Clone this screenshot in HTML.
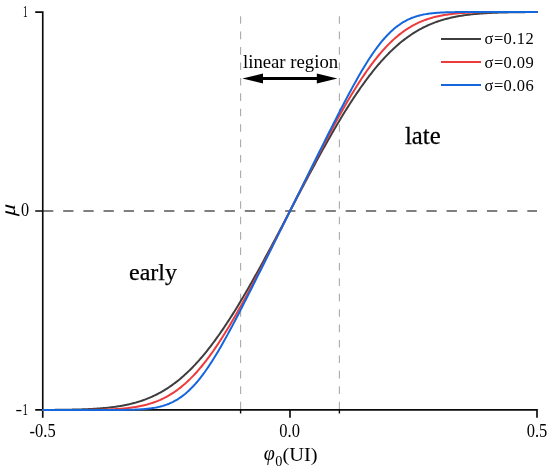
<!DOCTYPE html>
<html><head><meta charset="utf-8"><style>
html,body{margin:0;padding:0;background:#fff;}
svg{display:block;}
</style></head><body>
<svg width="550" height="471" viewBox="0 0 550 471">
<rect width="550" height="471" fill="#fff"/>
<g font-family="'Liberation Serif', 'Times New Roman', serif" fill="#000">
<line x1="43" y1="211.0" x2="537" y2="211.0" stroke="#7f7f7f" stroke-width="1.8" stroke-dasharray="10.3 9.88"/>
<line x1="240.60" y1="16.2" x2="240.60" y2="409" stroke="#aaaaaa" stroke-width="1.1" stroke-dasharray="7.6 7.82"/>
<line x1="339.40" y1="16.2" x2="339.40" y2="409" stroke="#aaaaaa" stroke-width="1.1" stroke-dasharray="7.6 7.82"/>
<path d="M35.2 12.1 H42.75 V417.8 M42.75 409.8 H537 V417.8 M35.2 211 H42.75 M35.2 409.9 H42.75 M290 409.8 V417.8" fill="none" stroke="#0a0a0a" stroke-width="1.65"/>
<path d="M240.60 409.8 V413.5 M339.40 409.8 V413.5" stroke="#0a0a0a" stroke-width="1.4"/>
<polyline points="43.00,409.94 44.24,409.93 45.47,409.93 46.71,409.92 47.94,409.92 49.18,409.91 50.41,409.90 51.65,409.89 52.88,409.89 54.12,409.88 55.35,409.87 56.59,409.86 57.82,409.84 59.05,409.83 60.29,409.82 61.52,409.80 62.76,409.79 64.00,409.77 65.23,409.76 66.47,409.74 67.70,409.72 68.94,409.70 70.17,409.67 71.41,409.65 72.64,409.62 73.88,409.60 75.11,409.57 76.34,409.54 77.58,409.50 78.81,409.47 80.05,409.43 81.28,409.39 82.52,409.35 83.75,409.31 84.99,409.26 86.23,409.21 87.46,409.16 88.70,409.10 89.93,409.04 91.17,408.98 92.40,408.91 93.64,408.84 94.87,408.77 96.10,408.69 97.34,408.61 98.57,408.52 99.81,408.43 101.04,408.33 102.28,408.23 103.51,408.12 104.75,408.01 105.99,407.89 107.22,407.77 108.46,407.63 109.69,407.50 110.93,407.35 112.16,407.20 113.40,407.04 114.63,406.88 115.86,406.70 117.10,406.52 118.33,406.33 119.57,406.13 120.80,405.92 122.04,405.70 123.27,405.48 124.51,405.24 125.75,404.99 126.98,404.73 128.22,404.47 129.45,404.19 130.69,403.89 131.92,403.59 133.16,403.27 134.39,402.94 135.62,402.60 136.86,402.25 138.09,401.88 139.33,401.50 140.56,401.10 141.80,400.69 143.03,400.26 144.27,399.82 145.50,399.36 146.74,398.89 147.98,398.40 149.21,397.89 150.45,397.37 151.68,396.83 152.92,396.27 154.15,395.69 155.39,395.10 156.62,394.49 157.86,393.85 159.09,393.20 160.33,392.53 161.56,391.84 162.80,391.13 164.03,390.39 165.26,389.64 166.50,388.87 167.74,388.07 168.97,387.26 170.20,386.42 171.44,385.56 172.68,384.68 173.91,383.77 175.15,382.85 176.38,381.90 177.62,380.92 178.85,379.93 180.09,378.91 181.32,377.87 182.56,376.80 183.79,375.71 185.03,374.60 186.26,373.47 187.50,372.31 188.73,371.12 189.96,369.92 191.20,368.69 192.44,367.43 193.67,366.15 194.91,364.85 196.14,363.53 197.38,362.18 198.61,360.80 199.84,359.41 201.08,357.99 202.31,356.54 203.55,355.08 204.79,353.59 206.02,352.07 207.25,350.54 208.49,348.98 209.73,347.40 210.96,345.80 212.19,344.17 213.43,342.52 214.67,340.85 215.90,339.16 217.13,337.45 218.37,335.72 219.60,333.97 220.84,332.19 222.07,330.40 223.31,328.59 224.55,326.75 225.78,324.90 227.01,323.03 228.25,321.14 229.49,319.23 230.72,317.31 231.96,315.36 233.19,313.40 234.43,311.43 235.66,309.43 236.90,307.42 238.13,305.40 239.37,303.36 240.60,301.30 241.84,299.23 243.07,297.14 244.31,295.04 245.54,292.93 246.78,290.80 248.01,288.67 249.25,286.51 250.48,284.35 251.72,282.18 252.95,279.99 254.19,277.79 255.42,275.58 256.65,273.37 257.89,271.14 259.12,268.90 260.36,266.66 261.60,264.40 262.83,262.14 264.06,259.87 265.30,257.59 266.54,255.30 267.77,253.01 269.00,250.71 270.24,248.41 271.48,246.10 272.71,243.78 273.94,241.46 275.18,239.13 276.42,236.80 277.65,234.47 278.88,232.13 280.12,229.79 281.36,227.45 282.59,225.10 283.82,222.76 285.06,220.41 286.30,218.06 287.53,215.71 288.76,213.35 290.00,211.00 291.24,208.65 292.47,206.29 293.71,203.94 294.94,201.59 296.17,199.24 297.41,196.90 298.64,194.55 299.88,192.21 301.12,189.87 302.35,187.53 303.58,185.20 304.82,182.87 306.06,180.54 307.29,178.22 308.52,175.90 309.76,173.59 311.00,171.29 312.23,168.99 313.46,166.70 314.70,164.41 315.94,162.13 317.17,159.86 318.40,157.60 319.64,155.34 320.88,153.10 322.11,150.86 323.35,148.63 324.58,146.42 325.81,144.21 327.05,142.01 328.29,139.82 329.52,137.65 330.75,135.49 331.99,133.33 333.23,131.20 334.46,129.07 335.69,126.96 336.93,124.86 338.17,122.77 339.40,120.70 340.63,118.64 341.87,116.60 343.11,114.58 344.34,112.57 345.58,110.57 346.81,108.60 348.05,106.64 349.28,104.69 350.52,102.77 351.75,100.86 352.99,98.97 354.22,97.10 355.46,95.25 356.69,93.41 357.93,91.60 359.16,89.81 360.39,88.03 361.63,86.28 362.87,84.55 364.10,82.84 365.33,81.15 366.57,79.48 367.81,77.83 369.04,76.20 370.27,74.60 371.51,73.02 372.75,71.46 373.98,69.93 375.21,68.41 376.45,66.92 377.69,65.46 378.92,64.01 380.15,62.59 381.39,61.20 382.62,59.82 383.86,58.47 385.10,57.15 386.33,55.85 387.56,54.57 388.80,53.31 390.04,52.08 391.27,50.88 392.50,49.69 393.74,48.53 394.98,47.40 396.21,46.29 397.44,45.20 398.68,44.13 399.92,43.09 401.15,42.07 402.38,41.08 403.62,40.10 404.86,39.15 406.09,38.23 407.33,37.32 408.56,36.44 409.80,35.58 411.03,34.74 412.27,33.93 413.50,33.13 414.74,32.36 415.97,31.61 417.21,30.87 418.44,30.16 419.68,29.47 420.91,28.80 422.15,28.15 423.38,27.51 424.62,26.90 425.85,26.31 427.08,25.73 428.32,25.17 429.55,24.63 430.79,24.11 432.02,23.60 433.26,23.11 434.50,22.64 435.73,22.18 436.97,21.74 438.20,21.31 439.44,20.90 440.67,20.50 441.90,20.12 443.14,19.75 444.38,19.40 445.61,19.06 446.85,18.73 448.08,18.41 449.31,18.11 450.55,17.81 451.78,17.53 453.02,17.27 454.25,17.01 455.49,16.76 456.73,16.52 457.96,16.30 459.20,16.08 460.43,15.87 461.67,15.67 462.90,15.48 464.13,15.30 465.37,15.12 466.61,14.96 467.84,14.80 469.08,14.65 470.31,14.50 471.55,14.37 472.78,14.23 474.01,14.11 475.25,13.99 476.49,13.88 477.72,13.77 478.96,13.67 480.19,13.57 481.43,13.48 482.66,13.39 483.90,13.31 485.13,13.23 486.37,13.16 487.60,13.09 488.83,13.02 490.07,12.96 491.30,12.90 492.54,12.84 493.77,12.79 495.01,12.74 496.25,12.69 497.48,12.65 498.72,12.61 499.95,12.57 501.19,12.53 502.42,12.50 503.65,12.46 504.89,12.43 506.12,12.40 507.36,12.38 508.60,12.35 509.83,12.33 511.06,12.30 512.30,12.28 513.53,12.26 514.77,12.24 516.00,12.23 517.24,12.21 518.48,12.20 519.71,12.18 520.95,12.17 522.18,12.16 523.41,12.14 524.65,12.13 525.88,12.12 527.12,12.11 528.36,12.11 529.59,12.10 530.83,12.09 532.06,12.08 533.30,12.08 534.53,12.07 535.76,12.07 537.00,12.06" fill="none" stroke="#3e3e3e" stroke-width="2" stroke-linejoin="round" stroke-linecap="round"/>
<polyline points="43.00,410.00 44.24,410.00 45.47,410.00 46.71,410.00 47.94,410.00 49.18,410.00 50.41,410.00 51.65,410.00 52.88,409.99 54.12,409.99 55.35,409.99 56.59,409.99 57.82,409.99 59.05,409.99 60.29,409.99 61.52,409.99 62.76,409.99 64.00,409.98 65.23,409.98 66.47,409.98 67.70,409.98 68.94,409.97 70.17,409.97 71.41,409.97 72.64,409.96 73.88,409.96 75.11,409.96 76.34,409.95 77.58,409.95 78.81,409.94 80.05,409.93 81.28,409.93 82.52,409.92 83.75,409.91 84.99,409.90 86.23,409.89 87.46,409.88 88.70,409.87 89.93,409.85 91.17,409.84 92.40,409.82 93.64,409.80 94.87,409.79 96.10,409.76 97.34,409.74 98.57,409.72 99.81,409.69 101.04,409.66 102.28,409.63 103.51,409.60 104.75,409.56 105.99,409.52 107.22,409.48 108.46,409.43 109.69,409.38 110.93,409.33 112.16,409.27 113.40,409.21 114.63,409.14 115.86,409.07 117.10,408.99 118.33,408.91 119.57,408.82 120.80,408.73 122.04,408.63 123.27,408.52 124.51,408.40 125.75,408.28 126.98,408.15 128.22,408.01 129.45,407.86 130.69,407.71 131.92,407.54 133.16,407.36 134.39,407.18 135.62,406.98 136.86,406.77 138.09,406.54 139.33,406.31 140.56,406.06 141.80,405.80 143.03,405.52 144.27,405.23 145.50,404.92 146.74,404.60 147.98,404.26 149.21,403.91 150.45,403.53 151.68,403.14 152.92,402.73 154.15,402.30 155.39,401.85 156.62,401.38 157.86,400.89 159.09,400.37 160.33,399.84 161.56,399.28 162.80,398.70 164.03,398.09 165.26,397.47 166.50,396.81 167.74,396.13 168.97,395.43 170.20,394.70 171.44,393.94 172.68,393.15 173.91,392.34 175.15,391.50 176.38,390.63 177.62,389.73 178.85,388.81 180.09,387.85 181.32,386.87 182.56,385.85 183.79,384.81 185.03,383.74 186.26,382.63 187.50,381.50 188.73,380.33 189.96,379.14 191.20,377.91 192.44,376.65 193.67,375.36 194.91,374.04 196.14,372.70 197.38,371.32 198.61,369.91 199.84,368.47 201.08,367.00 202.31,365.50 203.55,363.97 204.79,362.41 206.02,360.82 207.25,359.21 208.49,357.56 209.73,355.89 210.96,354.19 212.19,352.46 213.43,350.71 214.67,348.93 215.90,347.12 217.13,345.29 218.37,343.44 219.60,341.56 220.84,339.65 222.07,337.72 223.31,335.77 224.55,333.80 225.78,331.81 227.01,329.79 228.25,327.75 229.49,325.70 230.72,323.62 231.96,321.53 233.19,319.41 234.43,317.28 235.66,315.14 236.90,312.97 238.13,310.79 239.37,308.59 240.60,306.38 241.84,304.16 243.07,301.92 244.31,299.67 245.54,297.40 246.78,295.12 248.01,292.84 249.25,290.54 250.48,288.22 251.72,285.90 252.95,283.57 254.19,281.23 255.42,278.88 256.65,276.52 257.89,274.16 259.12,271.79 260.36,269.41 261.60,267.02 262.83,264.63 264.06,262.23 265.30,259.82 266.54,257.41 267.77,255.00 269.00,252.58 270.24,250.15 271.48,247.72 272.71,245.29 273.94,242.85 275.18,240.42 276.42,237.97 277.65,235.53 278.88,233.08 280.12,230.64 281.36,228.19 282.59,225.73 283.82,223.28 285.06,220.83 286.30,218.37 287.53,215.91 288.76,213.46 290.00,211.00 291.24,208.54 292.47,206.09 293.71,203.63 294.94,201.17 296.17,198.72 297.41,196.27 298.64,193.81 299.88,191.36 301.12,188.92 302.35,186.47 303.58,184.03 304.82,181.58 306.06,179.15 307.29,176.71 308.52,174.28 309.76,171.85 311.00,169.42 312.23,167.00 313.46,164.59 314.70,162.18 315.94,159.77 317.17,157.37 318.40,154.98 319.64,152.59 320.88,150.21 322.11,147.84 323.35,145.48 324.58,143.12 325.81,140.77 327.05,138.43 328.29,136.10 329.52,133.78 330.75,131.46 331.99,129.16 333.23,126.88 334.46,124.60 335.69,122.33 336.93,120.08 338.17,117.84 339.40,115.62 340.63,113.41 341.87,111.21 343.11,109.03 344.34,106.86 345.58,104.72 346.81,102.59 348.05,100.47 349.28,98.38 350.52,96.30 351.75,94.25 352.99,92.21 354.22,90.19 355.46,88.20 356.69,86.23 357.93,84.28 359.16,82.35 360.39,80.44 361.63,78.56 362.87,76.71 364.10,74.88 365.33,73.07 366.57,71.29 367.81,69.54 369.04,67.81 370.27,66.11 371.51,64.44 372.75,62.79 373.98,61.18 375.21,59.59 376.45,58.03 377.69,56.50 378.92,55.00 380.15,53.53 381.39,52.09 382.62,50.68 383.86,49.30 385.10,47.96 386.33,46.64 387.56,45.35 388.80,44.09 390.04,42.86 391.27,41.67 392.50,40.50 393.74,39.37 394.98,38.26 396.21,37.19 397.44,36.15 398.68,35.13 399.92,34.15 401.15,33.19 402.38,32.27 403.62,31.37 404.86,30.50 406.09,29.66 407.33,28.85 408.56,28.06 409.80,27.30 411.03,26.57 412.27,25.87 413.50,25.19 414.74,24.53 415.97,23.91 417.21,23.30 418.44,22.72 419.68,22.16 420.91,21.63 422.15,21.11 423.38,20.62 424.62,20.15 425.85,19.70 427.08,19.27 428.32,18.86 429.55,18.47 430.79,18.09 432.02,17.74 433.26,17.40 434.50,17.08 435.73,16.77 436.97,16.48 438.20,16.20 439.44,15.94 440.67,15.69 441.90,15.46 443.14,15.23 444.38,15.02 445.61,14.82 446.85,14.64 448.08,14.46 449.31,14.29 450.55,14.14 451.78,13.99 453.02,13.85 454.25,13.72 455.49,13.60 456.73,13.48 457.96,13.37 459.20,13.27 460.43,13.18 461.67,13.09 462.90,13.01 464.13,12.93 465.37,12.86 466.61,12.79 467.84,12.73 469.08,12.67 470.31,12.62 471.55,12.57 472.78,12.52 474.01,12.48 475.25,12.44 476.49,12.40 477.72,12.37 478.96,12.34 480.19,12.31 481.43,12.28 482.66,12.26 483.90,12.24 485.13,12.21 486.37,12.20 487.60,12.18 488.83,12.16 490.07,12.15 491.30,12.13 492.54,12.12 493.77,12.11 495.01,12.10 496.25,12.09 497.48,12.08 498.72,12.07 499.95,12.07 501.19,12.06 502.42,12.05 503.65,12.05 504.89,12.04 506.12,12.04 507.36,12.04 508.60,12.03 509.83,12.03 511.06,12.03 512.30,12.02 513.53,12.02 514.77,12.02 516.00,12.02 517.24,12.01 518.48,12.01 519.71,12.01 520.95,12.01 522.18,12.01 523.41,12.01 524.65,12.01 525.88,12.01 527.12,12.01 528.36,12.00 529.59,12.00 530.83,12.00 532.06,12.00 533.30,12.00 534.53,12.00 535.76,12.00 537.00,12.00" fill="none" stroke="#ee3a3a" stroke-width="2" stroke-linejoin="round" stroke-linecap="round"/>
<polyline points="43.00,410.00 44.24,410.00 45.47,410.00 46.71,410.00 47.94,410.00 49.18,410.00 50.41,410.00 51.65,410.00 52.88,410.00 54.12,410.00 55.35,410.00 56.59,410.00 57.82,410.00 59.05,410.00 60.29,410.00 61.52,410.00 62.76,410.00 64.00,410.00 65.23,410.00 66.47,410.00 67.70,410.00 68.94,410.00 70.17,410.00 71.41,410.00 72.64,410.00 73.88,410.00 75.11,410.00 76.34,410.00 77.58,410.00 78.81,410.00 80.05,410.00 81.28,410.00 82.52,410.00 83.75,410.00 84.99,410.00 86.23,410.00 87.46,410.00 88.70,410.00 89.93,410.00 91.17,410.00 92.40,410.00 93.64,410.00 94.87,410.00 96.10,410.00 97.34,410.00 98.57,410.00 99.81,409.99 101.04,409.99 102.28,409.99 103.51,409.99 104.75,409.99 105.99,409.99 107.22,409.99 108.46,409.98 109.69,409.98 110.93,409.98 112.16,409.97 113.40,409.97 114.63,409.96 115.86,409.96 117.10,409.95 118.33,409.94 119.57,409.93 120.80,409.92 122.04,409.91 123.27,409.89 124.51,409.88 125.75,409.86 126.98,409.84 128.22,409.82 129.45,409.79 130.69,409.76 131.92,409.73 133.16,409.69 134.39,409.65 135.62,409.60 136.86,409.55 138.09,409.49 139.33,409.42 140.56,409.35 141.80,409.27 143.03,409.18 144.27,409.08 145.50,408.98 146.74,408.86 147.98,408.73 149.21,408.58 150.45,408.43 151.68,408.26 152.92,408.07 154.15,407.87 155.39,407.64 156.62,407.40 157.86,407.14 159.09,406.86 160.33,406.56 161.56,406.23 162.80,405.88 164.03,405.50 165.26,405.10 166.50,404.67 167.74,404.20 168.97,403.71 170.20,403.18 171.44,402.62 172.68,402.03 173.91,401.40 175.15,400.73 176.38,400.03 177.62,399.29 178.85,398.50 180.09,397.68 181.32,396.81 182.56,395.91 183.79,394.96 185.03,393.96 186.26,392.92 187.50,391.84 188.73,390.71 189.96,389.54 191.20,388.32 192.44,387.06 193.67,385.75 194.91,384.40 196.14,383.00 197.38,381.56 198.61,380.07 199.84,378.54 201.08,376.97 202.31,375.35 203.55,373.70 204.79,372.00 206.02,370.26 207.25,368.48 208.49,366.67 209.73,364.81 210.96,362.92 212.19,361.00 213.43,359.04 214.67,357.05 215.90,355.03 217.13,352.98 218.37,350.90 219.60,348.79 220.84,346.66 222.07,344.50 223.31,342.32 224.55,340.11 225.78,337.89 227.01,335.64 228.25,333.38 229.49,331.09 230.72,328.79 231.96,326.47 233.19,324.14 234.43,321.80 235.66,319.44 236.90,317.07 238.13,314.69 239.37,312.30 240.60,309.90 241.84,307.49 243.07,305.07 244.31,302.65 245.54,300.22 246.78,297.78 248.01,295.34 249.25,292.89 250.48,290.44 251.72,287.98 252.95,285.52 254.19,283.06 255.42,280.59 256.65,278.12 257.89,275.65 259.12,273.17 260.36,270.69 261.60,268.22 262.83,265.74 264.06,263.25 265.30,260.77 266.54,258.29 267.77,255.80 269.00,253.32 270.24,250.83 271.48,248.34 272.71,245.86 273.94,243.37 275.18,240.88 276.42,238.39 277.65,235.90 278.88,233.41 280.12,230.92 281.36,228.43 282.59,225.94 283.82,223.45 285.06,220.96 286.30,218.47 287.53,215.98 288.76,213.49 290.00,211.00 291.24,208.51 292.47,206.02 293.71,203.53 294.94,201.04 296.17,198.55 297.41,196.06 298.64,193.57 299.88,191.08 301.12,188.59 302.35,186.10 303.58,183.61 304.82,181.12 306.06,178.63 307.29,176.14 308.52,173.66 309.76,171.17 311.00,168.68 312.23,166.20 313.46,163.71 314.70,161.23 315.94,158.75 317.17,156.26 318.40,153.78 319.64,151.31 320.88,148.83 322.11,146.35 323.35,143.88 324.58,141.41 325.81,138.94 327.05,136.48 328.29,134.02 329.52,131.56 330.75,129.11 331.99,126.66 333.23,124.22 334.46,121.78 335.69,119.35 336.93,116.93 338.17,114.51 339.40,112.10 340.63,109.70 341.87,107.31 343.11,104.93 344.34,102.56 345.58,100.20 346.81,97.86 348.05,95.53 349.28,93.21 350.52,90.91 351.75,88.62 352.99,86.36 354.22,84.11 355.46,81.89 356.69,79.68 357.93,77.50 359.16,75.34 360.39,73.21 361.63,71.10 362.87,69.02 364.10,66.97 365.33,64.95 366.57,62.96 367.81,61.00 369.04,59.08 370.27,57.19 371.51,55.33 372.75,53.52 373.98,51.74 375.21,50.00 376.45,48.30 377.69,46.65 378.92,45.03 380.15,43.46 381.39,41.93 382.62,40.44 383.86,39.00 385.10,37.60 386.33,36.25 387.56,34.94 388.80,33.68 390.04,32.46 391.27,31.29 392.50,30.16 393.74,29.08 394.98,28.04 396.21,27.04 397.44,26.09 398.68,25.19 399.92,24.32 401.15,23.50 402.38,22.71 403.62,21.97 404.86,21.27 406.09,20.60 407.33,19.97 408.56,19.38 409.80,18.82 411.03,18.29 412.27,17.80 413.50,17.33 414.74,16.90 415.97,16.50 417.21,16.12 418.44,15.77 419.68,15.44 420.91,15.14 422.15,14.86 423.38,14.60 424.62,14.36 425.85,14.13 427.08,13.93 428.32,13.74 429.55,13.57 430.79,13.42 432.02,13.27 433.26,13.14 434.50,13.02 435.73,12.92 436.97,12.82 438.20,12.73 439.44,12.65 440.67,12.58 441.90,12.51 443.14,12.45 444.38,12.40 445.61,12.35 446.85,12.31 448.08,12.27 449.31,12.24 450.55,12.21 451.78,12.18 453.02,12.16 454.25,12.14 455.49,12.12 456.73,12.11 457.96,12.09 459.20,12.08 460.43,12.07 461.67,12.06 462.90,12.05 464.13,12.04 465.37,12.04 466.61,12.03 467.84,12.03 469.08,12.02 470.31,12.02 471.55,12.02 472.78,12.01 474.01,12.01 475.25,12.01 476.49,12.01 477.72,12.01 478.96,12.01 480.19,12.01 481.43,12.00 482.66,12.00 483.90,12.00 485.13,12.00 486.37,12.00 487.60,12.00 488.83,12.00 490.07,12.00 491.30,12.00 492.54,12.00 493.77,12.00 495.01,12.00 496.25,12.00 497.48,12.00 498.72,12.00 499.95,12.00 501.19,12.00 502.42,12.00 503.65,12.00 504.89,12.00 506.12,12.00 507.36,12.00 508.60,12.00 509.83,12.00 511.06,12.00 512.30,12.00 513.53,12.00 514.77,12.00 516.00,12.00 517.24,12.00 518.48,12.00 519.71,12.00 520.95,12.00 522.18,12.00 523.41,12.00 524.65,12.00 525.88,12.00 527.12,12.00 528.36,12.00 529.59,12.00 530.83,12.00 532.06,12.00 533.30,12.00 534.53,12.00 535.76,12.00 537.00,12.00" fill="none" stroke="#1466dc" stroke-width="2" stroke-linejoin="round" stroke-linecap="round"/>
<line x1="258" y1="78.5" x2="322" y2="78.5" stroke="#000" stroke-width="3"/>
<polygon points="242.4,78.5 263,73.5 263,83.6" fill="#000"/>
<polygon points="337.4,78.5 316.8,73.5 316.8,83.6" fill="#000"/>
<line x1="441" y1="39" x2="481" y2="39" stroke="#3e3e3e" stroke-width="2"/>
<line x1="441" y1="62" x2="481" y2="62" stroke="#ee3a3a" stroke-width="2"/>
<line x1="441" y1="85" x2="481" y2="85" stroke="#1466dc" stroke-width="2"/>
<text x="22.9" y="16.7" font-size="17" textLength="4.6" lengthAdjust="spacingAndGlyphs">1</text>
<text transform="translate(29.1,215.9) scale(0.95,1.05)" font-size="17" text-anchor="end">0</text>
<text x="15.6" y="414.7" font-size="17"><tspan dy="0.6" textLength="6.6" lengthAdjust="spacingAndGlyphs">-</tspan><tspan x="22.5" dy="-0.6" textLength="5.4" lengthAdjust="spacingAndGlyphs">1</tspan></text>
<text transform="translate(42.6,436.5) scale(0.97,1.1)" font-size="17" text-anchor="middle">-0.5</text>
<text transform="translate(289.6,436.5) scale(0.97,1.1)" font-size="17" text-anchor="middle">0.0</text>
<text transform="translate(537.0,436.5) scale(0.97,1.1)" font-size="17" text-anchor="middle">0.5</text>
<text font-size="19.8"><tspan x="263.7" y="460.3" font-size="20" font-style="italic">φ</tspan><tspan x="275.2" y="465.8" font-size="14.3">0</tspan><tspan x="282.4" y="460.5" textLength="35.2" lengthAdjust="spacingAndGlyphs">(UI)</tspan></text>
<text transform="translate(14.6,210.2) rotate(-90) scale(1.1,1) skewX(-3)" font-size="21" text-anchor="middle" font-style="italic">μ</text>
<text transform="translate(243,68.0) scale(1.04,1.0)" font-size="18">linear region</text>
<text transform="translate(405,143.9) scale(1.03,1.03)" font-size="24" stroke="#000" stroke-width="0.25">late</text>
<text transform="translate(129.0,280.2)" font-size="24" stroke="#000" stroke-width="0.25">early</text>
<text transform="translate(484.6,44.2) scale(1.0,1.06)" font-size="16.5" letter-spacing="0.4">σ=0.12</text>
<text transform="translate(484.6,67.8) scale(1.0,1.06)" font-size="16.5" letter-spacing="0.4">σ=0.09</text>
<text transform="translate(484.6,90.8) scale(1.0,1.06)" font-size="16.5" letter-spacing="0.4">σ=0.06</text>
</g>
</svg>
</body></html>
